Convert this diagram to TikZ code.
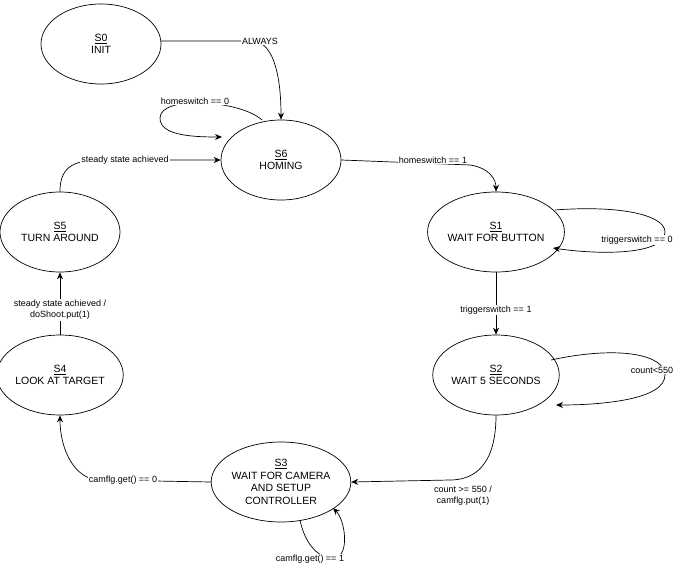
\documentclass[tikz,border=0pt]{standalone}
\usepackage{fontspec}
\setmainfont{Liberation Sans}
\usetikzlibrary{shapes.geometric,arrows.meta}
\begin{document}
\begin{tikzpicture}[x=1pt,y=-1pt,line width=0.7pt,
  st/.style={draw,ellipse,minimum width=120pt,minimum height=80pt,inner sep=0pt,align=center,font=\fontsize{10.5}{12.5}\selectfont},
  lbl/.style={fill=white,inner sep=1pt,font=\fontsize{9}{11}\selectfont,align=center},
  ed/.style={-{Stealth[length=7pt,width=6pt]}}]
\useasboundingbox (0,0) rectangle (695,567);
\node[st] (s0) at (101,44) {\underline{S0}\\INIT};
\node[st] (s6) at (281,160) {\underline{S6}\\HOMING};
\node[st] (s1) at (496,232) {\underline{S1}\\WAIT FOR BUTTON};
\node[st] (s5) at (60,232) {\underline{S5}\\TURN AROUND};
\node[st] (s2) at (496,375) {\underline{S2}\\WAIT 5 SECONDS};
\node[st] (s4) at (60,375) {\underline{S4}\\LOOK AT TARGET};
\node[st] (s3) at (281,482) {\underline{S3}\\WAIT FOR CAMERA\\AND SETUP\\CONTROLLER};
\draw[ed] (161,41) -- (255,41) .. controls (275,45) and (281,80) .. (s6.north);
\node[lbl] at (260,41) {ALWAYS};
\draw[ed] (262,120) .. controls (240,100) and (160,95) .. (160,118) .. controls (160,135) and (190,137) .. (222,137);
\node[lbl] at (195,101) {homeswitch == 0};
\draw[ed] (s5.north) .. controls (60,170) and (70,160) .. (100,160) -- (s6.west);
\node[lbl] at (125,160) {steady state achieved};
\draw[ed] (s6.east) -- (470,165) .. controls (490,168) and (496,180) .. (s1.north);
\node[lbl] at (433,160) {homeswitch == 1};
\draw[ed] (555,210) .. controls (620,205) and (665,215) .. (665,232) .. controls (665,255) and (600,255) .. (553,248);
\node[lbl] at (637,240) {triggerswitch == 0};
\draw[ed] (s1.south) -- (s2.north);
\node[lbl] at (496,310) {triggerswitch == 1};
\draw[ed] (551,360) .. controls (620,345) and (665,355) .. (665,375) .. controls (665,400) and (600,405) .. (556,405);
\node[lbl] at (652,370) {count<550};
\draw[ed] (s2.south) .. controls (496,470) and (470,480) .. (450,480) -- (s3.east);
\node[lbl] at (463,496) {count >= 550 /\\camflg.put(1)};
\draw[ed] (s3.west) -- (100,480) .. controls (75,480) and (60,450) .. (s4.south);
\node[lbl] at (123,480) {camflg.get() == 0};
\draw[ed] (300,520) .. controls (305,545) and (320,560) .. (335,558) .. controls (350,555) and (345,520) .. (333,508);
\node[lbl] at (310,559) {camflg.get() == 1};
\draw[ed] (s4.north) -- (s5.south);
\node[lbl] at (60,310) {steady state achieved /\\doShoot.put(1)};
\end{tikzpicture}
\end{document}
